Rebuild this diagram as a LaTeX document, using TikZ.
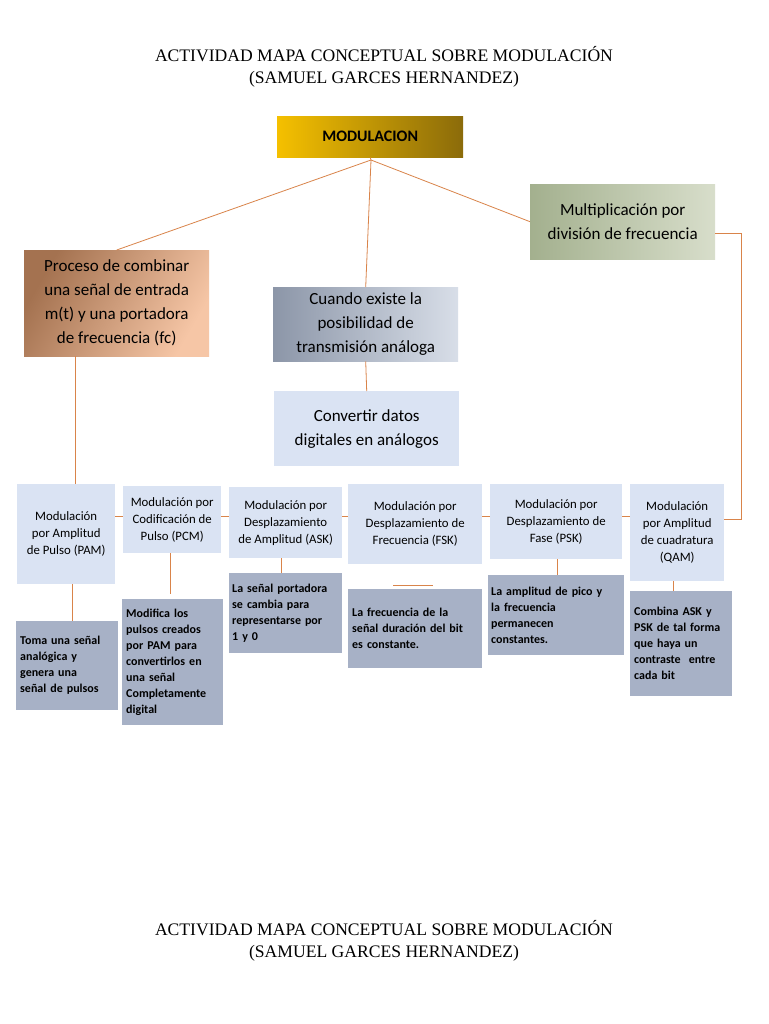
\documentclass[tikz,border=0pt]{standalone}
\usepackage{fontspec}
\setmainfont{Carlito}
\newfontfamily\titlefont{Liberation Serif}
\definecolor{lnc}{HTML}{D9844A}
\definecolor{rowc}{HTML}{DAE3F3}
\definecolor{descc}{HTML}{A7B1C6}
\definecolor{modl}{HTML}{F5C000}
\definecolor{modr}{HTML}{8B6B0A}
\definecolor{mull}{HTML}{A3B08E}
\definecolor{mulr}{HTML}{D8DECB}
\definecolor{prol}{HTML}{A47250}
\definecolor{pror}{HTML}{F6C6A6}
\definecolor{cual}{HTML}{8C96A8}
\definecolor{cuar}{HTML}{D8DEE8}
\begin{document}
\begin{tikzpicture}[x=1pt,y=-1pt,
  ln/.style={draw=lnc, line width=0.8pt},
  big/.style={anchor=north west, inner sep=0pt, align=center, font=\fontsize{17}{24}\selectfont},
  row/.style={anchor=north west, inner sep=0pt, align=center, fill=rowc, font=\fontsize{12.8}{17}\selectfont},
  desc/.style={anchor=north west, inner sep=0pt, fill=descc, font=\bfseries\fontsize{12}{16}\selectfont},
  ttl/.style={font=\titlefont\fontsize{17.6}{22}\selectfont, align=center}]
\useasboundingbox[fill=white] (0,0) rectangle (768,1024);
\node[ttl] (t1) at (384,67) {ACTIVIDAD MAPA CONCEPTUAL SOBRE MODULACIÓN\\(SAMUEL GARCES HERNANDEZ)};
\node[ttl] (t2) at (384,941) {ACTIVIDAD MAPA CONCEPTUAL SOBRE MODULACIÓN\\(SAMUEL GARCES HERNANDEZ)};
\node[big, minimum width=186, minimum height=41, left color=modl, right color=modr, font=\bfseries\fontsize{16}{22}\selectfont] (mod) at (277,116) {MODULACION};
\node[big, minimum width=185, minimum height=75, left color=mull, right color=mulr] (mul) at (530,184) {Multiplicación por\\división de frecuencia};
\node[big, minimum width=185, minimum height=106, left color=prol, right color=pror, shading angle=60] (pro) at (24,250) {Proceso de combinar\\una señal de entrada\\m(t) y una portadora\\de frecuencia (fc)};
\node[big, minimum width=185, minimum height=74, left color=cual, right color=cuar] (cua) at (273,287) {Cuando existe la\\posibilidad de\\transmisión análoga};
\node[big, minimum width=185, minimum height=75, fill=rowc] (con) at (274,391) {Convertir datos\\digitales en análogos};
\coordinate (hub) at (371,160);
\draw[ln] (mod.south) -- (hub);
\draw[ln] (hub) -- (pro.north);
\draw[ln] (hub) -- (cua.north);
\draw[ln] (hub) -- (mul.west);
\draw[ln] (cua.south) -- (con.north);
% row
\node[row, minimum width=98, minimum height=100] (pam) at (17,484) {Modulación\\por Amplitud\\de Pulso (PAM)};
\node[row, minimum width=98, minimum height=67] (pcm) at (123,486) {Modulación por\\Codificación de\\Pulso (PCM)};
\node[row, minimum width=113, minimum height=71] (ask) at (229,487) {Modulación por\\Desplazamiento\\de Amplitud (ASK)};
\node[row, minimum width=134, minimum height=80] (fsk) at (348,484) {Modulación por\\Desplazamiento de\\Frecuencia (FSK)};
\node[row, minimum width=132, minimum height=75] (psk) at (490,484) {Modulación por\\Desplazamiento de\\Fase (PSK)};
\node[row, minimum width=94, minimum height=97] (qam) at (630,484) {Modulación\\por Amplitud\\de cuadratura\\(QAM)};
\draw[ln] (75,356) -- (pam.north -| 75,0);
\coordinate (c1) at (741,233);
\coordinate (c2) at (741,519);
\draw[ln] (mul.east |- c1) -- (c1) -- (c2) -- (qam.east |- c2);
\draw[ln] (pam.east |- 0,516) -- (pcm.west |- 0,516);
\draw[ln] (pcm.east |- 0,516) -- (ask.west |- 0,516);
\draw[ln] (ask.east |- 0,516) -- (fsk.west |- 0,516);
\draw[ln] (fsk.east |- 0,516) -- (psk.west |- 0,516);
\draw[ln] (psk.east |- 0,516) -- (qam.west |- 0,516);
% descriptions
\node[desc, minimum width=102, minimum height=89, text width=94, align=left, inner xsep=4pt] (dpam) at (16,621) {Toma una señal\\analógica y\\genera una\\señal de pulsos};
\node[desc, minimum width=101, minimum height=126, text width=93, align=left, inner xsep=4pt] (dpcm) at (122,599) {Modifica los\\pulsos creados\\por PAM para\\convertirlos en\\una señal\\Completamente\\digital};
\node[desc, minimum width=113, minimum height=80, text width=107, align=left, inner xsep=3pt] (dask) at (229,573) {La señal portadora\\se cambia para\\representarse por\\1 y 0\\[8pt]};
\node[desc, minimum width=134, minimum height=79, text width=126, align=left, inner xsep=4pt] (dfsk) at (348,589) {La frecuencia de la\\señal duración del bit\\es constante.};
\node[desc, minimum width=136, minimum height=80, text width=130, align=left, inner xsep=3pt] (dpsk) at (488,575) {La amplitud de pico y\\la frecuencia\\permanecen\\constantes.\\[6pt]};
\node[desc, minimum width=102, minimum height=105, text width=94, align=left, inner xsep=4pt] (dqam) at (630,591) {Combina ASK y\\PSK de tal forma\\que haya un\\contraste\ \ entre\\cada bit\\[4pt]};
\draw[ln] (pam.south -| 72,0) -- (dpam.north -| 72,0);
\draw[ln] (pcm.south -| 170,0) -- (170,594);
\draw[ln] (ask.south -| 281,0) -- (dask.north -| 281,0);
\coordinate (f1) at (393,585); \coordinate (f2) at (433,585);
\draw[ln] (f1) -- (f2);
\draw[ln] (psk.south -| 557,0) -- (dpsk.north -| 557,0);
\draw[ln] (qam.south -| 673,0) -- (dqam.north -| 673,0);
\end{tikzpicture}
\end{document}
